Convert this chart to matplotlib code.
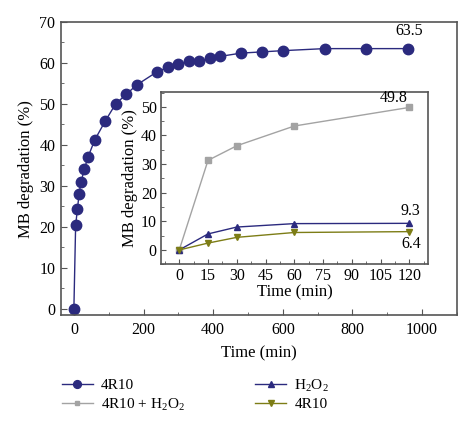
import matplotlib
matplotlib.use("Agg")
import matplotlib.pyplot as plt
from matplotlib.ticker import MultipleLocator

plt.rcParams['font.family'] = ['Liberation Serif', 'DejaVu Serif']
plt.rcParams['mathtext.fontset'] = 'custom'
plt.rcParams['mathtext.rm'] = 'Liberation Serif'

# Main series: 4R10 + H2O2 (long run)
main_t = [0, 5, 10, 15, 20, 30, 40, 60, 90, 120, 150, 180, 240, 270, 300,
          330, 360, 390, 420, 480, 540, 600, 720, 840, 960]
main_y = [0, 20.3, 24.2, 28.0, 30.8, 34.0, 36.9, 41.2, 45.8, 50.0, 52.3, 54.6,
          57.9, 58.9, 59.7, 60.4, 60.4, 61.1, 61.6, 62.4, 62.7, 63.0, 63.5, 63.5, 63.5]

# Inset series
ins_t = [0, 15, 30, 60, 120]
ins_combo = [0, 31.3, 36.4, 43.3, 49.8]
ins_h2o2 = [0, 5.6, 8.0, 9.2, 9.3]
ins_4r10 = [0, 2.4, 4.4, 6.1, 6.4]

navy = '#2b2a7e'
gray = '#a3a3a3'
olive = '#7d7d16'
spine_c = '#555555'
fs_tick = 11.5
fs_lab = 12

fig = plt.figure(figsize=(4.74, 4.29), dpi=100)
ax = fig.add_axes([0.1287, 0.2646, 0.8353, 0.6841])

l1, = ax.plot(main_t, main_y, '-o', color=navy, lw=1.0, ms=7.5, mfc=navy, mec=navy,
              label='4R10')
ax.set_xlim(-37, 1100)
ax.set_ylim(-1.7, 70)
ax.xaxis.set_major_locator(MultipleLocator(200))
ax.xaxis.set_minor_locator(MultipleLocator(100))
ax.yaxis.set_major_locator(MultipleLocator(10))
ax.yaxis.set_minor_locator(MultipleLocator(5))
ax.tick_params(which='both', direction='in', top=False, right=False,
               labelsize=fs_tick, color=spine_c, pad=4)
ax.tick_params(axis='x', pad=5)
ax.tick_params(which='major', length=4)
ax.tick_params(which='minor', length=2.5)
for s in ax.spines.values():
    s.set_color(spine_c)
    s.set_linewidth(1.2)
ax.set_xlabel('Time (min)', fontsize=fs_lab, labelpad=5)
ax.set_ylabel('MB degradation (%)', fontsize=fs_lab, labelpad=4)
ax.annotate(f'{main_y[-1]:.1f}', (main_t[-1], main_y[-1]), xytext=(1, 7),
            textcoords='offset points', ha='center', va='bottom', fontsize=fs_tick)

# Inset
axi = fig.add_axes([0.3397, 0.384, 0.5633, 0.401])
l2, = axi.plot(ins_t, ins_combo, '-s', color=gray, lw=1.0, ms=4, label='4R10 + H$_2$O$_2$')
l3, = axi.plot(ins_t, ins_h2o2, '-^', color=navy, lw=1.0, ms=5, label='H$_2$O$_2$')
l4, = axi.plot(ins_t, ins_4r10, '-v', color=olive, lw=1.0, ms=5, label='4R10')
axi.set_xlim(-9.5, 129.7)
axi.set_ylim(-5, 55.1)
axi.xaxis.set_major_locator(MultipleLocator(15))
axi.xaxis.set_minor_locator(MultipleLocator(7.5))
axi.yaxis.set_major_locator(MultipleLocator(10))
axi.yaxis.set_minor_locator(MultipleLocator(5))
axi.tick_params(which='both', direction='in', top=False, right=False,
                labelsize=fs_tick, color=spine_c, pad=3)
axi.tick_params(which='major', length=3.5)
axi.tick_params(which='minor', length=2)
for s in axi.spines.values():
    s.set_color(spine_c)
    s.set_linewidth(1.2)
axi.set_xlabel('Time (min)', fontsize=fs_lab, labelpad=0)
axi.set_ylabel('MB degradation (%)', fontsize=fs_lab, labelpad=2)
axi.annotate(f'{ins_combo[-1]:.1f}', (ins_t[-1], ins_combo[-1]), xytext=(-1, 1),
             textcoords='offset points', ha='right', va='bottom', fontsize=fs_tick)
axi.annotate(f'{ins_h2o2[-1]:.1f}', (ins_t[-1], ins_h2o2[-1]), xytext=(1, 3),
             textcoords='offset points', ha='center', va='bottom', fontsize=fs_tick)
axi.annotate(f'{ins_4r10[-1]:.1f}', (ins_t[-1], ins_4r10[-1]), xytext=(1, -3),
             textcoords='offset points', ha='center', va='top', fontsize=fs_tick)

fig.legend(handles=[l1, l2, l3, l4], loc='upper left', bbox_to_anchor=(0.118, 0.135),
           ncol=2, frameon=False, fontsize=11, handlelength=2.0, columnspacing=4.6,
           labelspacing=0.25, handletextpad=0.55, borderaxespad=0, markerscale=0.75)

fig.savefig('out.png', dpi=100)
